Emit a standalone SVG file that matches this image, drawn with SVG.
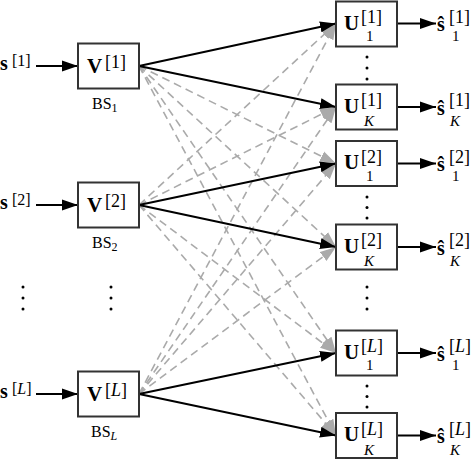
<svg xmlns="http://www.w3.org/2000/svg" width="474" height="460" viewBox="0 0 474 460">
<defs>
<style>
.box{fill:#fff;stroke:#333;stroke-width:2}
.solid{stroke:#000;stroke-width:2;fill:none}
.dash{stroke:#aaa;stroke-width:1.6;stroke-dasharray:8,5;fill:none}
.t{font-family:"Liberation Serif","Times New Roman",serif;fill:#000}
.b{font-weight:bold;font-size:21px}
.sup{font-size:18px}
.sub{font-size:15px}
.it{font-style:italic}
</style>
<marker id="ab" markerUnits="userSpaceOnUse" markerWidth="17" markerHeight="12" refX="16" refY="6" orient="auto"><path d="M0,0.5 L16,6 L0,11.5 z" fill="#000"/></marker>
<marker id="ag" markerUnits="userSpaceOnUse" markerWidth="17" markerHeight="12" refX="16" refY="6" orient="auto"><path d="M0,0.5 L16,6 L0,11.5 z" fill="#aaa"/></marker>
</defs>
<g id="connectors">
<g class="dash" marker-end="url(#ag)">
<line x1="139" y1="66" x2="336" y2="163.5"/>
<line x1="139" y1="66" x2="336" y2="247"/>
<line x1="139" y1="66" x2="336" y2="353"/>
<line x1="139" y1="66" x2="336" y2="435.5"/>
<line x1="139" y1="205" x2="336" y2="23.5"/>
<line x1="139" y1="205" x2="336" y2="107"/>
<line x1="139" y1="205" x2="336" y2="353"/>
<line x1="139" y1="205" x2="336" y2="435.5"/>
<line x1="139" y1="394" x2="336" y2="23.5"/>
<line x1="139" y1="394" x2="336" y2="107"/>
<line x1="139" y1="394" x2="336" y2="163.5"/>
<line x1="139" y1="394" x2="336" y2="247"/>
</g>
<g class="solid" marker-end="url(#ab)">
<line x1="139" y1="66" x2="336" y2="23.5"/>
<line x1="139" y1="66" x2="336" y2="107"/>
<line x1="139" y1="205" x2="336" y2="163.5"/>
<line x1="139" y1="205" x2="336" y2="247"/>
<line x1="139" y1="394" x2="336" y2="353"/>
<line x1="139" y1="394" x2="336" y2="435.5"/>
<line x1="36" y1="66" x2="78" y2="66"/>
<line x1="36" y1="205" x2="78" y2="205"/>
<line x1="36" y1="394" x2="78" y2="394"/>
<line x1="397" y1="23.5" x2="436" y2="23.5"/>
<line x1="397" y1="107" x2="436" y2="107"/>
<line x1="397" y1="163.5" x2="436" y2="163.5"/>
<line x1="397" y1="247" x2="436" y2="247"/>
<line x1="397" y1="353" x2="436" y2="353"/>
<line x1="397" y1="435.5" x2="436" y2="435.5"/>
</g>
</g>
<g id="in1"><text x="0" y="70" class="t b" font-size="20" style="font-size:20px">s</text><text x="12" y="66" class="t" font-size="16">[1]</text></g>
<g id="in2"><text x="0" y="209" class="t b" style="font-size:20px">s</text><text x="12" y="205" class="t" font-size="16">[2]</text></g>
<g id="inL"><text x="0" y="398" class="t b" style="font-size:20px">s</text><text x="12" y="394" class="t" font-size="16">[<tspan class="it">L</tspan>]</text></g>
<g id="V1"><rect class="box" x="78" y="43.5" width="61" height="45"/><text class="t b" x="87" y="73">V</text><text class="t sup" x="105" y="68">[1]</text><text class="t" x="92" y="109" font-size="16">BS<tspan font-size="12" dy="3">1</tspan></text></g>
<g id="V2"><rect class="box" x="78" y="182.5" width="61" height="45"/><text class="t b" x="87" y="212">V</text><text class="t sup" x="105" y="207">[2]</text><text class="t" x="92" y="248" font-size="16">BS<tspan font-size="12" dy="3">2</tspan></text></g>
<g id="VL"><rect class="box" x="78" y="371.5" width="61" height="45"/><text class="t b" x="87" y="401">V</text><text class="t sup" x="105" y="396">[<tspan class="it">L</tspan>]</text><text class="t" x="91" y="437" font-size="16">BS<tspan font-size="12" dy="3" class="it">L</tspan></text></g>
<g id="U11"><rect class="box" x="336" y="1.5" width="61" height="45"/><text class="t b" x="344" y="29.5">U</text><text class="t sup" x="361" y="23">[1]</text><text class="t sub" x="366" y="41">1</text></g>
<g id="UK1"><rect class="box" x="336" y="84.5" width="61" height="45"/><text class="t b" x="344" y="112.5">U</text><text class="t sup" x="361" y="106">[1]</text><text class="t sub it" x="364" y="126">K</text></g>
<g id="U12"><rect class="box" x="336" y="141" width="61" height="45"/><text class="t b" x="344" y="169">U</text><text class="t sup" x="361" y="162.5">[2]</text><text class="t sub" x="366" y="180.5">1</text></g>
<g id="UK2"><rect class="box" x="336" y="224.5" width="61" height="45"/><text class="t b" x="344" y="252.5">U</text><text class="t sup" x="361" y="246">[2]</text><text class="t sub it" x="364" y="266">K</text></g>
<g id="U1L"><rect class="box" x="336" y="330.5" width="61" height="45"/><text class="t b" x="344" y="358.5">U</text><text class="t sup" x="361" y="352">[<tspan class="it">L</tspan>]</text><text class="t sub" x="366" y="370">1</text></g>
<g id="UKL"><rect class="box" x="336" y="413" width="61" height="45"/><text class="t b" x="344" y="441">U</text><text class="t sup" x="361" y="434.5">[<tspan class="it">L</tspan>]</text><text class="t sub it" x="364" y="454.5">K</text></g>
<g id="out11"><text class="t b" x="437" y="31" style="font-size:20px">ŝ</text><text class="t sup" x="449" y="23">[1]</text><text class="t sub" x="452" y="41">1</text></g>
<g id="outK1"><text class="t b" x="437" y="114.5" style="font-size:20px">ŝ</text><text class="t sup" x="449" y="106">[1]</text><text class="t sub it" x="450" y="126">K</text></g>
<g id="out12"><text class="t b" x="437" y="171" style="font-size:20px">ŝ</text><text class="t sup" x="449" y="162.5">[2]</text><text class="t sub" x="452" y="180.5">1</text></g>
<g id="outK2"><text class="t b" x="437" y="254.5" style="font-size:20px">ŝ</text><text class="t sup" x="449" y="246">[2]</text><text class="t sub it" x="450" y="266">K</text></g>
<g id="out1L"><text class="t b" x="437" y="360.5" style="font-size:20px">ŝ</text><text class="t sup" x="449" y="352">[<tspan class="it">L</tspan>]</text><text class="t sub" x="452" y="370">1</text></g>
<g id="outKL"><text class="t b" x="437" y="443" style="font-size:20px">ŝ</text><text class="t sup" x="449" y="434.5">[<tspan class="it">L</tspan>]</text><text class="t sub it" x="450" y="454.5">K</text></g>
<g id="dots" fill="#000">
<circle cx="23" cy="287" r="1.5"/><circle cx="23" cy="298" r="1.5"/><circle cx="23" cy="309" r="1.5"/>
<circle cx="111" cy="287" r="1.5"/><circle cx="111" cy="298" r="1.5"/><circle cx="111" cy="309" r="1.5"/>
<circle cx="367" cy="57" r="1.5"/><circle cx="367" cy="68" r="1.5"/><circle cx="367" cy="79" r="1.5"/>
<circle cx="367" cy="197" r="1.5"/><circle cx="367" cy="207.5" r="1.5"/><circle cx="367" cy="218" r="1.5"/>
<circle cx="367" cy="287" r="1.5"/><circle cx="367" cy="298" r="1.5"/><circle cx="367" cy="309" r="1.5"/>
<circle cx="367" cy="386" r="1.5"/><circle cx="367" cy="396.5" r="1.5"/><circle cx="367" cy="407" r="1.5"/>
</g>
</svg>
